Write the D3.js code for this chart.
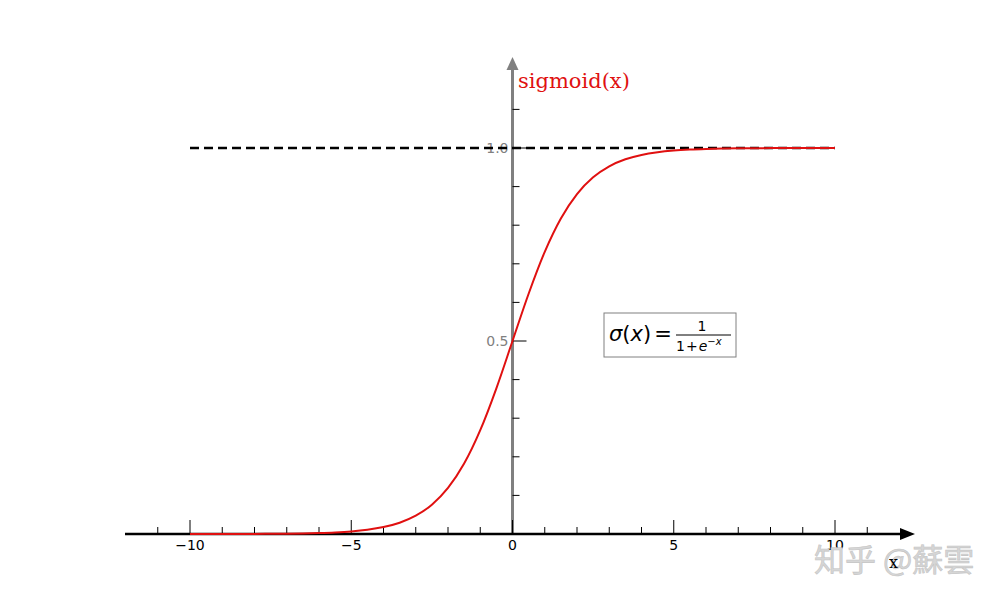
<!DOCTYPE html>
<html>
<head>
<meta charset="utf-8">
<script src="https://cdn.jsdelivr.net/npm/d3@7"></script>
<style>
  body { margin: 0; background: #fff; }
  svg { display: block; }
</style>
</head>
<body>
<svg id="chart" width="1000" height="600"></svg>
<script>
// curve samples (x step 0.5)
const xs = [-10, -9.5, -9, -8.5, -8, -7.5, -7, -6.5, -6, -5.5, -5, -4.5, -4, -3.5, -3, -2.5, -2, -1.5, -1, -0.5,
  0, 0.5, 1, 1.5, 2, 2.5, 3, 3.5, 4, 4.5, 5, 5.5, 6, 6.5, 7, 7.5, 8, 8.5, 9, 9.5, 10];
const ys = [0.0000, 0.0001, 0.0001, 0.0002, 0.0003, 0.0006, 0.0009, 0.0015, 0.0025, 0.0041, 0.0067, 0.0110,
  0.0180, 0.0293, 0.0474, 0.0759, 0.1192, 0.1824, 0.2689, 0.3775, 0.5000, 0.6225, 0.7311, 0.8176, 0.8808,
  0.9241, 0.9526, 0.9707, 0.9820, 0.9890, 0.9933, 0.9959, 0.9975, 0.9985, 0.9991, 0.9994, 0.9997, 0.9998,
  0.9999, 0.9999, 1.0000];
const xMajor = [-10, -5, 0, 5, 10];
const xMinor = [-11, -9, -8, -7, -6, -4, -3, -2, -1, 1, 2, 3, 4, 6, 7, 8, 9, 11];
const yMajor = [0.5, 1.0];
const yMinor = [0.1, 0.2, 0.3, 0.4, 0.6, 0.7, 0.8, 0.9, 1.1];
const asymptote = [[-10, 1], [10, 1]];

const svg = d3.select("#chart");
const x = d3.scaleLinear().domain([-10, 10]).range([190, 835]);
const y = d3.scaleLinear().domain([0, 1]).range([534, 148]);

// y axis (grey, with arrow)
const yAxisG = svg.append("g");
yAxisG.append("line")
  .attr("x1", x(0)).attr("x2", x(0))
  .attr("y1", y(0)).attr("y2", 68)
  .attr("stroke", "#808080").attr("stroke-width", 3);
yAxisG.append("path")
  .attr("d", `M${x(0)},57 L${x(0) - 6},70 L${x(0) + 6},70 Z`)
  .attr("fill", "#808080");
yAxisG.selectAll(".ymin").data(yMinor).join("line")
  .attr("x1", x(0)).attr("x2", x(0) + 7)
  .attr("y1", d => y(d)).attr("y2", d => y(d))
  .attr("stroke", "#000").attr("stroke-width", 1);
yAxisG.selectAll(".ymaj").data(yMajor).join("line")
  .attr("x1", x(0)).attr("x2", x(0) + 14)
  .attr("y1", d => y(d)).attr("y2", d => y(d))
  .attr("stroke", "#000").attr("stroke-width", 1);
yAxisG.selectAll("text").data(yMajor).join("text")
  .attr("x", x(0) - 4).attr("y", d => y(d) + 5)
  .attr("text-anchor", "end")
  .attr("font-family", "DejaVu Sans").attr("font-size", 14)
  .attr("fill", "#808080")
  .text(d3.format(".1f"));

// x axis (black, with arrow)
const xAxisG = svg.append("g");
xAxisG.append("line")
  .attr("x1", 125).attr("x2", 902)
  .attr("y1", y(0)).attr("y2", y(0))
  .attr("stroke", "#000").attr("stroke-width", 2.5);
xAxisG.append("path")
  .attr("d", `M915,${y(0)} L900,${y(0) - 6} L900,${y(0) + 6} Z`)
  .attr("fill", "#000");
xAxisG.selectAll(".xmin").data(xMinor).join("line")
  .attr("x1", d => x(d)).attr("x2", d => x(d))
  .attr("y1", y(0)).attr("y2", y(0) - 7)
  .attr("stroke", "#000").attr("stroke-width", 1);
xAxisG.selectAll(".xmaj").data(xMajor).join("line")
  .attr("x1", d => x(d)).attr("x2", d => x(d))
  .attr("y1", y(0)).attr("y2", y(0) - 14)
  .attr("stroke", "#000").attr("stroke-width", 1);
xAxisG.selectAll("text").data(xMajor).join("text")
  .attr("x", d => x(d)).attr("y", 550)
  .attr("text-anchor", "middle")
  .attr("font-family", "DejaVu Sans").attr("font-size", 14)
  .attr("fill", "#000")
  .text(d => d < 0 ? "\u2212" + Math.abs(d) : d);

// asymptote y = 1
svg.append("path")
  .attr("d", d3.line().x(d => x(d[0])).y(d => y(d[1]))(asymptote))
  .attr("fill", "none").attr("stroke", "#000")
  .attr("stroke-width", 2.5).attr("stroke-dasharray", "9,5");

// sigmoid curve
svg.append("path")
  .datum(xs.map((v, i) => [v, ys[i]]))
  .attr("d", d3.line().x(d => x(d[0])).y(d => y(d[1])).curve(d3.curveMonotoneX))
  .attr("fill", "none").attr("stroke", "#e01010").attr("stroke-width", 2);

// watermark (under the x label)
svg.append("text")
  .attr("x", 814).attr("y", 571)
  .attr("font-family", "Noto Sans CJK SC").attr("font-size", 31)
  .attr("fill", "#d6d6d6").attr("stroke", "#c4c4c4").attr("stroke-width", 0.6)
  .text("知乎 @蘇雲");

// axis labels
svg.append("text")
  .attr("x", 518).attr("y", 88)
  .attr("font-family", "DejaVu Serif").attr("font-size", 21)
  .attr("fill", "#e01010")
  .text("sigmoid(x)");
svg.append("text")
  .attr("x", 889).attr("y", 568)
  .attr("font-family", "DejaVu Serif").attr("font-size", 16)
  .attr("fill", "#000")
  .text("x");

// formula box
const box = svg.append("g");
box.append("rect")
  .attr("x", 604).attr("y", 313).attr("width", 132).attr("height", 44)
  .attr("fill", "#fff").attr("stroke", "#808080").attr("stroke-width", 1);
box.append("text")
  .attr("x", 609).attr("y", 341)
  .attr("font-family", "DejaVu Sans").attr("font-size", 21)
  .attr("fill", "#000")
  .html('<tspan font-style="italic">σ</tspan>(<tspan font-style="italic">x</tspan>)<tspan dx="3">=</tspan>');
box.append("text")
  .attr("x", 702).attr("y", 331)
  .attr("text-anchor", "middle")
  .attr("font-family", "DejaVu Sans").attr("font-size", 14)
  .text("1");
box.append("line")
  .attr("x1", 676).attr("x2", 731).attr("y1", 335).attr("y2", 335)
  .attr("stroke", "#000").attr("stroke-width", 1);
box.append("text")
  .attr("x", 676).attr("y", 351)
  .attr("font-family", "DejaVu Sans").attr("font-size", 14)
  .html('1<tspan dx="1">+</tspan><tspan dx="1" font-style="italic">e</tspan><tspan dy="-6" font-size="10">−<tspan font-style="italic">x</tspan></tspan>');
</script>
</body>
</html>
